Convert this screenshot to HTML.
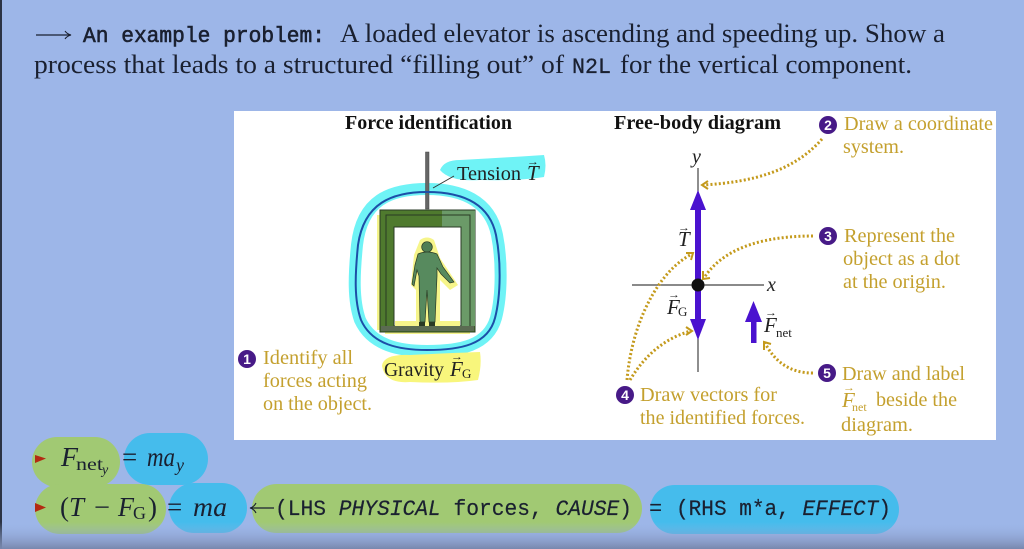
<!DOCTYPE html>
<html><head><meta charset="utf-8"><style>
html,body{margin:0;padding:0;width:1024px;height:549px;overflow:hidden;background:#9db6e8}
svg{display:block;filter:blur(.35px)}
text{font-family:"Liberation Serif",serif}
.m{font-family:"Liberation Mono",monospace;font-size:22px}
.t{font-size:26px;fill:#1a2030}
.c{font-size:19.5px;fill:#c4a02e}
.k{fill:#222}
.i{font-style:italic}
.n{font-family:"Liberation Sans",sans-serif;font-size:14px;font-weight:bold;fill:#fff;text-anchor:middle}
.d{fill:none;stroke:#c49a1c;stroke-width:3;stroke-dasharray:2 2.2}
.h{fill:none;stroke:#c49a1c;stroke-width:2}
</style></head><body>
<svg width="1024" height="549" viewBox="0 0 1024 549" xmlns="http://www.w3.org/2000/svg">
<defs><linearGradient id="b" x1="0" y1="0" x2="0" y2="1"><stop offset="0" stop-color="#9db6e8" stop-opacity="0"/><stop offset="1" stop-color="#7887ad"/></linearGradient></defs>
<rect width="1024" height="549" fill="#9db6e8"/>
<rect x="0" y="0" width="2" height="549" fill="#2c3344"/>

<!-- heading -->
<line x1="36" y1="35" x2="70" y2="35" stroke="#1a2030" stroke-width="1.2"/>
<path d="M65 31Q67 34 71 35Q67 36 65 39" fill="none" stroke="#1a2030" stroke-width="1.1"/>
<text class="m" x="83" y="42" textLength="242" lengthAdjust="spacingAndGlyphs" stroke="#1a2030" stroke-width=".6" fill="#1a2030">An example problem:</text>
<text class="t" x="340" y="42" textLength="605" lengthAdjust="spacingAndGlyphs">A loaded elevator is ascending and speeding up. Show a</text>
<text class="t" x="34" y="73" textLength="530" lengthAdjust="spacingAndGlyphs">process that leads to a structured “filling out” of</text>
<text class="m" x="572" y="73" textLength="39" lengthAdjust="spacingAndGlyphs" fill="#1a2030" stroke="#1a2030" stroke-width=".3">N2L</text>
<text class="t" x="620" y="73" textLength="292" lengthAdjust="spacingAndGlyphs">for the vertical component.</text>

<!-- white panel -->
<rect x="234" y="111" width="762" height="329" fill="#fff"/>
<text x="345" y="129" font-size="19.5" font-weight="bold" fill="#111" textLength="167" lengthAdjust="spacingAndGlyphs">Force identification</text>
<text x="614" y="129" font-size="19.5" font-weight="bold" fill="#111" textLength="167" lengthAdjust="spacingAndGlyphs">Free-body diagram</text>

<!-- highlights -->
<path d="M440 170Q444 160 460 160Q500 158 544 155Q547 165 544 177Q520 181 480 180Q450 182 440 170Z" fill="#6ff3f6"/>
<path d="M427 189C390 189 362 200 357 245C354 275 353 300 360 320C372 346 400 351 427 351C460 351 488 346 496 318C502 295 502 260 497 235C490 200 460 189 427 189Z" fill="none" stroke="#6ff3f6" stroke-width="12"/>
<path d="M382 366Q383 354 410 355Q450 353 480 352Q482 365 478 380Q450 384 410 382Q385 384 382 366Z" fill="#f8f67c"/>

<!-- elevator -->
<rect x="377" y="215" width="8" height="115" fill="#f4f48a"/>
<rect x="385" y="330" width="85" height="4" fill="#f4f48a"/>
<rect x="380" y="210" width="95" height="122" fill="#4f7a2e" stroke="#2a3a24" stroke-width="1"/>
<rect x="442" y="210.5" width="33" height="16" fill="#6b9a68"/>
<rect x="461" y="226" width="14" height="100" fill="#6b9a68"/>
<rect x="386" y="215" width="84" height="112" fill="none" stroke="#2a3a24" stroke-width="1"/>
<rect x="394" y="227" width="67" height="99" fill="#fff" stroke="#2a3a24" stroke-width="1"/>
<rect x="395" y="321" width="65" height="5" fill="#f6f58a"/>
<path d="M416 326V290L411 285L414 255L420 240Q427 235 434 240L440 258L458 285L450 290L440 280V326Z" fill="#f6f58a"/>
<rect x="381" y="326" width="93" height="5" fill="#5b6b52"/>

<!-- person -->
<circle cx="427" cy="247" r="5.3" fill="#4f7e54" stroke="#2a3a24" stroke-width=".7"/>
<path d="M418 254Q427 250 437 254L443 267L454 282L450 283L441 274L437 268V276L435 322H429L427 290L425 322H420L419 276L417 270L414 286L412 284L415 265Z" fill="#578a5e" stroke="#2a3a24" stroke-width=".7"/>
<rect x="419" y="322" width="6" height="4" fill="#2a3a24"/><rect x="429" y="322" width="6" height="4" fill="#2a3a24"/>

<rect x="425.5" y="152" width="3.5" height="57" fill="#666" stroke="#444" stroke-width=".5"/>
<path d="M427 192C392 192 364 203 358 245C355 275 354 300 361 320C372 345 400 350 427 350C460 350 488 345 495 318C501 295 501 260 496 235C489 202 460 192 427 192Z" fill="none" stroke="#1c4fa8" stroke-width="2"/>
<line x1="433" y1="188" x2="454" y2="176" stroke="#333" stroke-width="1"/>

<text class="k" x="457" y="180" font-size="19.5" textLength="64" lengthAdjust="spacingAndGlyphs">Tension</text>
<text class="k i" x="527" y="180" font-size="21">T</text>
<text class="k" x="527" y="165" font-size="11" textLength="12" lengthAdjust="spacingAndGlyphs">→</text>
<text class="k" x="384" y="376" font-size="19.5" textLength="60" lengthAdjust="spacingAndGlyphs">Gravity</text>
<text class="k i" x="450" y="376" font-size="21">F</text>
<text class="k" x="462" y="378" font-size="13">G</text>
<text class="k" x="451" y="360" font-size="11" textLength="12" lengthAdjust="spacingAndGlyphs">→</text>

<!-- step 1 -->
<circle cx="247" cy="359" r="9" fill="#471a87"/><text class="n" x="247" y="364">1</text>
<text class="c" x="263" y="364" textLength="90" lengthAdjust="spacingAndGlyphs">Identify all</text>
<text class="c" x="263" y="387" textLength="104" lengthAdjust="spacingAndGlyphs">forces acting</text>
<text class="c" x="263" y="410" textLength="109" lengthAdjust="spacingAndGlyphs">on the object.</text>

<!-- FBD -->
<line x1="698" y1="168" x2="698" y2="372" stroke="#444" stroke-width="1.2"/>
<line x1="632" y1="285" x2="764" y2="285" stroke="#444" stroke-width="1.2"/>
<text class="k i" x="692" y="163" font-size="20">y</text>
<text class="k i" x="767" y="291" font-size="20">x</text>
<rect x="695" y="205" width="6" height="120" fill="#4a12cf"/>
<path d="M698 190L706 210H690Z" fill="#4a12cf"/>
<path d="M698 340L706 319H690Z" fill="#4a12cf"/>
<circle cx="698" cy="285" r="6.5" fill="#111"/>
<rect x="751" y="318" width="5.5" height="25" fill="#4a12cf"/>
<path d="M753.5 301L762 322H745Z" fill="#4a12cf"/>

<text class="k i" x="678" y="246" font-size="21">T</text><text class="k" x="678" y="231" font-size="11" textLength="12" lengthAdjust="spacingAndGlyphs">→</text>
<text class="k i" x="667" y="314" font-size="21">F</text><text class="k" x="678" y="316" font-size="13">G</text><text class="k" x="668" y="298" font-size="11" textLength="12" lengthAdjust="spacingAndGlyphs">→</text>
<text class="k i" x="764" y="332" font-size="21">F</text><text class="k" x="776" y="337" font-size="13">net</text><text class="k" x="765" y="316" font-size="11" textLength="12" lengthAdjust="spacingAndGlyphs">→</text>

<!-- dotted leaders -->
<path class="d" d="M822 139C795 170 755 182 703 185"/>
<path class="h" d="M708 181L702 185L708 189"/>
<path class="d" d="M813 236C770 236 725 245 704 278"/>
<path class="h" d="M703 271L703 279L710 278"/>
<path class="d" d="M627 380C632 320 660 270 692 254"/>
<path class="h" d="M686 253L693 253L691 260"/>
<path class="d" d="M630 380C645 355 665 338 691 331"/>
<path class="h" d="M686 327L692 331L686 335"/>
<path class="d" d="M813 373C790 373 775 362 765 343"/>
<path class="h" d="M764 350L764 342L771 344"/>

<!-- steps -->
<circle cx="828" cy="125" r="9" fill="#471a87"/><text class="n" x="828" y="130">2</text>
<text class="c" x="844" y="130" textLength="149" lengthAdjust="spacingAndGlyphs">Draw a coordinate</text>
<text class="c" x="843" y="153" textLength="61" lengthAdjust="spacingAndGlyphs">system.</text>
<circle cx="828" cy="236" r="9" fill="#471a87"/><text class="n" x="828" y="241">3</text>
<text class="c" x="844" y="242" textLength="111" lengthAdjust="spacingAndGlyphs">Represent the</text>
<text class="c" x="843" y="265" textLength="117" lengthAdjust="spacingAndGlyphs">object as a dot</text>
<text class="c" x="843" y="288" textLength="103" lengthAdjust="spacingAndGlyphs">at the origin.</text>
<circle cx="625" cy="395" r="9" fill="#471a87"/><text class="n" x="625" y="400">4</text>
<text class="c" x="640" y="401" textLength="137" lengthAdjust="spacingAndGlyphs">Draw vectors for</text>
<text class="c" x="640" y="424" textLength="165" lengthAdjust="spacingAndGlyphs">the identified forces.</text>
<circle cx="827" cy="373" r="9" fill="#471a87"/><text class="n" x="827" y="378">5</text>
<text class="c" x="842" y="380" textLength="123" lengthAdjust="spacingAndGlyphs">Draw and label</text>
<text class="c i" x="842" y="407" style="font-size:21px">F</text><text class="c" x="852" y="411" style="font-size:12px">net</text>
<text class="c" x="843" y="391" style="font-size:11px" textLength="12" lengthAdjust="spacingAndGlyphs">→</text>
<text class="c" x="876" y="406" textLength="81" lengthAdjust="spacingAndGlyphs">beside the</text>
<text class="c" x="841" y="431" textLength="72" lengthAdjust="spacingAndGlyphs">diagram.</text>

<!-- bottom highlights -->
<rect x="124" y="433" width="84" height="52" rx="26" fill="#45bcec"/>
<rect x="169" y="483" width="78" height="50" rx="25" fill="#45bcec"/>
<rect x="32" y="437" width="88" height="50" rx="25" fill="#a1c973"/>
<rect x="35" y="484" width="131" height="50" rx="25" fill="#a1c973"/>
<rect x="252" y="484" width="390" height="49" rx="24.5" fill="#a1c973"/>
<rect x="650" y="485" width="249" height="49" rx="24.5" fill="#45bcec"/>

<path d="M35 455L46 458.5L35 463Z" fill="#b32a12"/>
<path d="M35 503L46 507.5L35 512Z" fill="#b32a12"/>

<text class="i" x="61" y="466" font-size="27" fill="#1a2030" textLength="17" lengthAdjust="spacingAndGlyphs">F</text>
<text x="76" y="470" font-size="18" fill="#1a2030" textLength="27" lengthAdjust="spacingAndGlyphs">net</text>
<text class="i" x="102" y="474" font-size="14" fill="#1a2030">y</text>
<text x="122" y="466" font-size="27" fill="#1a2030">=</text>
<text class="i" x="147" y="466" font-size="27" fill="#1a2030" textLength="28" lengthAdjust="spacingAndGlyphs">ma</text>
<text class="i" x="176" y="471" font-size="18" fill="#1a2030">y</text>

<text x="60" y="516" font-size="27" fill="#1a2030">(</text>
<text class="i" x="69" y="516" font-size="27" fill="#1a2030">T</text>
<text x="94" y="516" font-size="27" fill="#1a2030" textLength="16" lengthAdjust="spacingAndGlyphs">−</text>
<text class="i" x="118" y="516" font-size="27" fill="#1a2030" textLength="16" lengthAdjust="spacingAndGlyphs">F</text>
<text x="133" y="519" font-size="18" fill="#1a2030">G</text>
<text x="148" y="516" font-size="27" fill="#1a2030">)</text>
<text x="167" y="516" font-size="27" fill="#1a2030">=</text>
<text class="i" x="193" y="516" font-size="27" fill="#1a2030" textLength="34" lengthAdjust="spacingAndGlyphs">ma</text>

<line x1="251" y1="508" x2="274" y2="508" stroke="#1a2030" stroke-width="1.2"/>
<path d="M256 503Q254 507 250 508Q254 509 256 513" fill="none" stroke="#1a2030" stroke-width="1.1"/>
<text class="m" x="275" y="515" textLength="357" lengthAdjust="spacingAndGlyphs" fill="#1a2030" stroke="#1a2030" stroke-width=".2">(LHS <tspan font-style="italic">PHYSICAL</tspan> forces, <tspan font-style="italic">CAUSE</tspan>)</text>
<text class="m" x="649" y="515" fill="#1a2030">=</text>
<text class="m" x="676" y="515" textLength="215" lengthAdjust="spacingAndGlyphs" fill="#1a2030" stroke="#1a2030" stroke-width=".2">(RHS m*a, <tspan font-style="italic">EFFECT</tspan>)</text>

<rect x="0" y="522" width="1024" height="27" fill="url(#b)"/>
</svg>
</body></html>
